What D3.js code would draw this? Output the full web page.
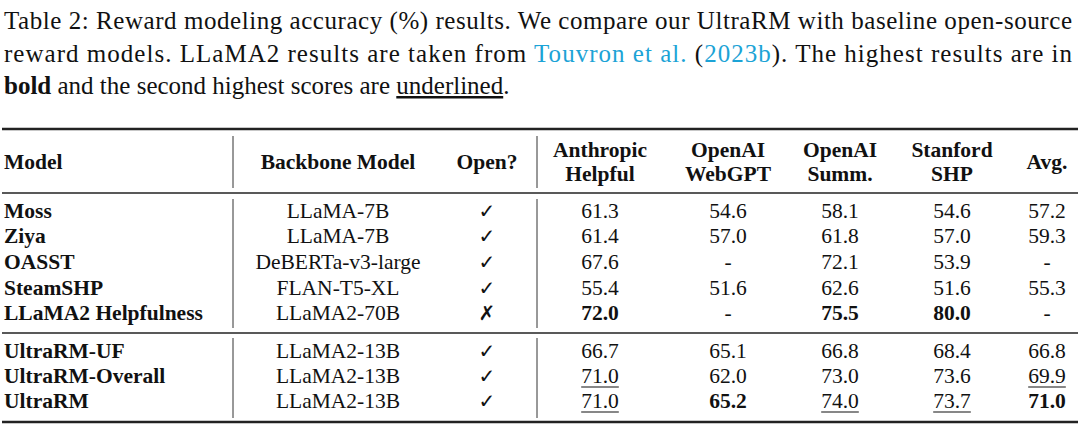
<!DOCTYPE html>
<html><head><meta charset="utf-8">
<script src="https://cdn.jsdelivr.net/npm/d3@7"></script>
<style>body{margin:0;background:#fff}svg{font-family:"Liberation Serif","Times New Roman",serif}</style>
</head><body><svg id="c" width="1080" height="429"></svg>
<script>
const columns = ["Model","Backbone Model","Open?","Anthropic\nHelpful","OpenAI\nWebGPT","OpenAI\nSumm.","Stanford\nSHP","Avg."];
const models = ["Moss","Ziya","OASST","SteamSHP","LLaMA2 Helpfulness","UltraRM-UF","UltraRM-Overall","UltraRM"];
const backbones = ["LLaMA-7B","LLaMA-7B","DeBERTa-v3-large","FLAN-T5-XL","LLaMA2-70B","LLaMA2-13B","LLaMA2-13B","LLaMA2-13B"];
const openFlags = ["✓","✓","✓","✓","✗","✓","✓","✓"];
const anthropic = ["61.3","61.4","67.6","55.4","72.0","66.7","71.0","71.0"];
const webgpt = ["54.6","57.0","-","51.6","-","65.1","62.0","65.2"];
const summ = ["58.1","61.8","72.1","62.6","75.5","66.8","73.0","74.0"];
const shp = ["54.6","57.0","53.9","51.6","80.0","68.4","73.6","73.7"];
const avg = ["57.2","59.3","-","55.3","-","66.8","69.9","71.0"];
const bold = {"4-3":1,"4-5":1,"4-6":1,"7-4":1,"7-7":1};
const under = {"6-3":1,"7-3":1,"6-7":1,"7-5":1,"7-6":1};

const svg = d3.select("#c");
const cap = [
 [{t:"Table 2: Reward modeling accuracy (%) results. We compare our UltraRM with baseline open-source"}],
 [{t:"reward models. LLaMA2 results are taken from "},{t:"Touvron et al.",c:"#1ca3d6"},{t:" ("},{t:"2023b",c:"#1ca3d6"},{t:"). The highest results are in"}],
 [{t:"bold",b:1},{t:" and the second highest scores are "},{t:"underlined",u:1},{t:"."}]
];
cap.forEach((line,i)=>{
  const tx = svg.append("text").attr("x",4).attr("y",29+i*32.5).attr("font-size",25).attr("fill","#111")
    .attr("textLength", i<2?1068:null).attr("lengthAdjust","spacing");
  line.forEach(s=>tx.append("tspan").text(s.t).attr("fill",s.c||"#111")
    .attr("font-weight",s.b?"bold":null).attr("text-decoration",s.u?"underline":null));
});

const colX = [4,338,487,600,728,840,952,1047];
const rowY = d3.scaleOrdinal().domain(d3.range(8)).range([211,236,262,288,313,351,376,401]);
const fs = 21.5;
columns.forEach((c,j)=>{
  const parts=c.split("\n");
  parts.forEach((p,k)=>{
    svg.append("text").attr("x",colX[j]).attr("y",(parts.length===1?161:149+k*24)+8)
      .attr("text-anchor",j===0?"start":"middle").attr("font-weight","bold").attr("font-size",fs).attr("fill","#111").text(p);
  });
});
const cols=[models,backbones,openFlags,anthropic,webgpt,summ,shp,avg];
models.forEach((m,i)=>{
  cols.forEach((arr,j)=>{
    const key=i+"-"+j;
    const t=svg.append("text").attr("x",colX[j]).attr("y",rowY(i)+7)
      .attr("text-anchor",j===0?"start":"middle").attr("font-size",fs).attr("fill","#111")
      .attr("font-weight",(j===0||bold[key])?"bold":null).text(arr[i]);
    if(j===2) t.attr("font-family","DejaVu Sans").attr("font-size",20).attr("font-weight",arr[i]==="✗"?"bold":null);
    if(under[key]){
      const w=t.node().getComputedTextLength();
      svg.append("line").attr("x1",colX[j]-w/2).attr("x2",colX[j]+w/2).attr("y1",rowY(i)+11).attr("y2",rowY(i)+11).attr("stroke","#111").attr("stroke-width",1.2);
    }
  });
});
const hl=(y,w)=>svg.append("line").attr("x1",2).attr("x2",1078).attr("y1",y).attr("y2",y).attr("stroke","#222").attr("stroke-width",w);
hl(129,2.5); hl(193,1.3); hl(333,1.3); hl(422,2.5);
const vl=(x,y1,y2)=>svg.append("line").attr("x1",x).attr("x2",x).attr("y1",y1).attr("y2",y2).attr("stroke","#333").attr("stroke-width",1);
[[136,188],[199,328],[338,418]].forEach(([a,b])=>{vl(233,a,b);vl(537,a,b);});
</script></body></html>
